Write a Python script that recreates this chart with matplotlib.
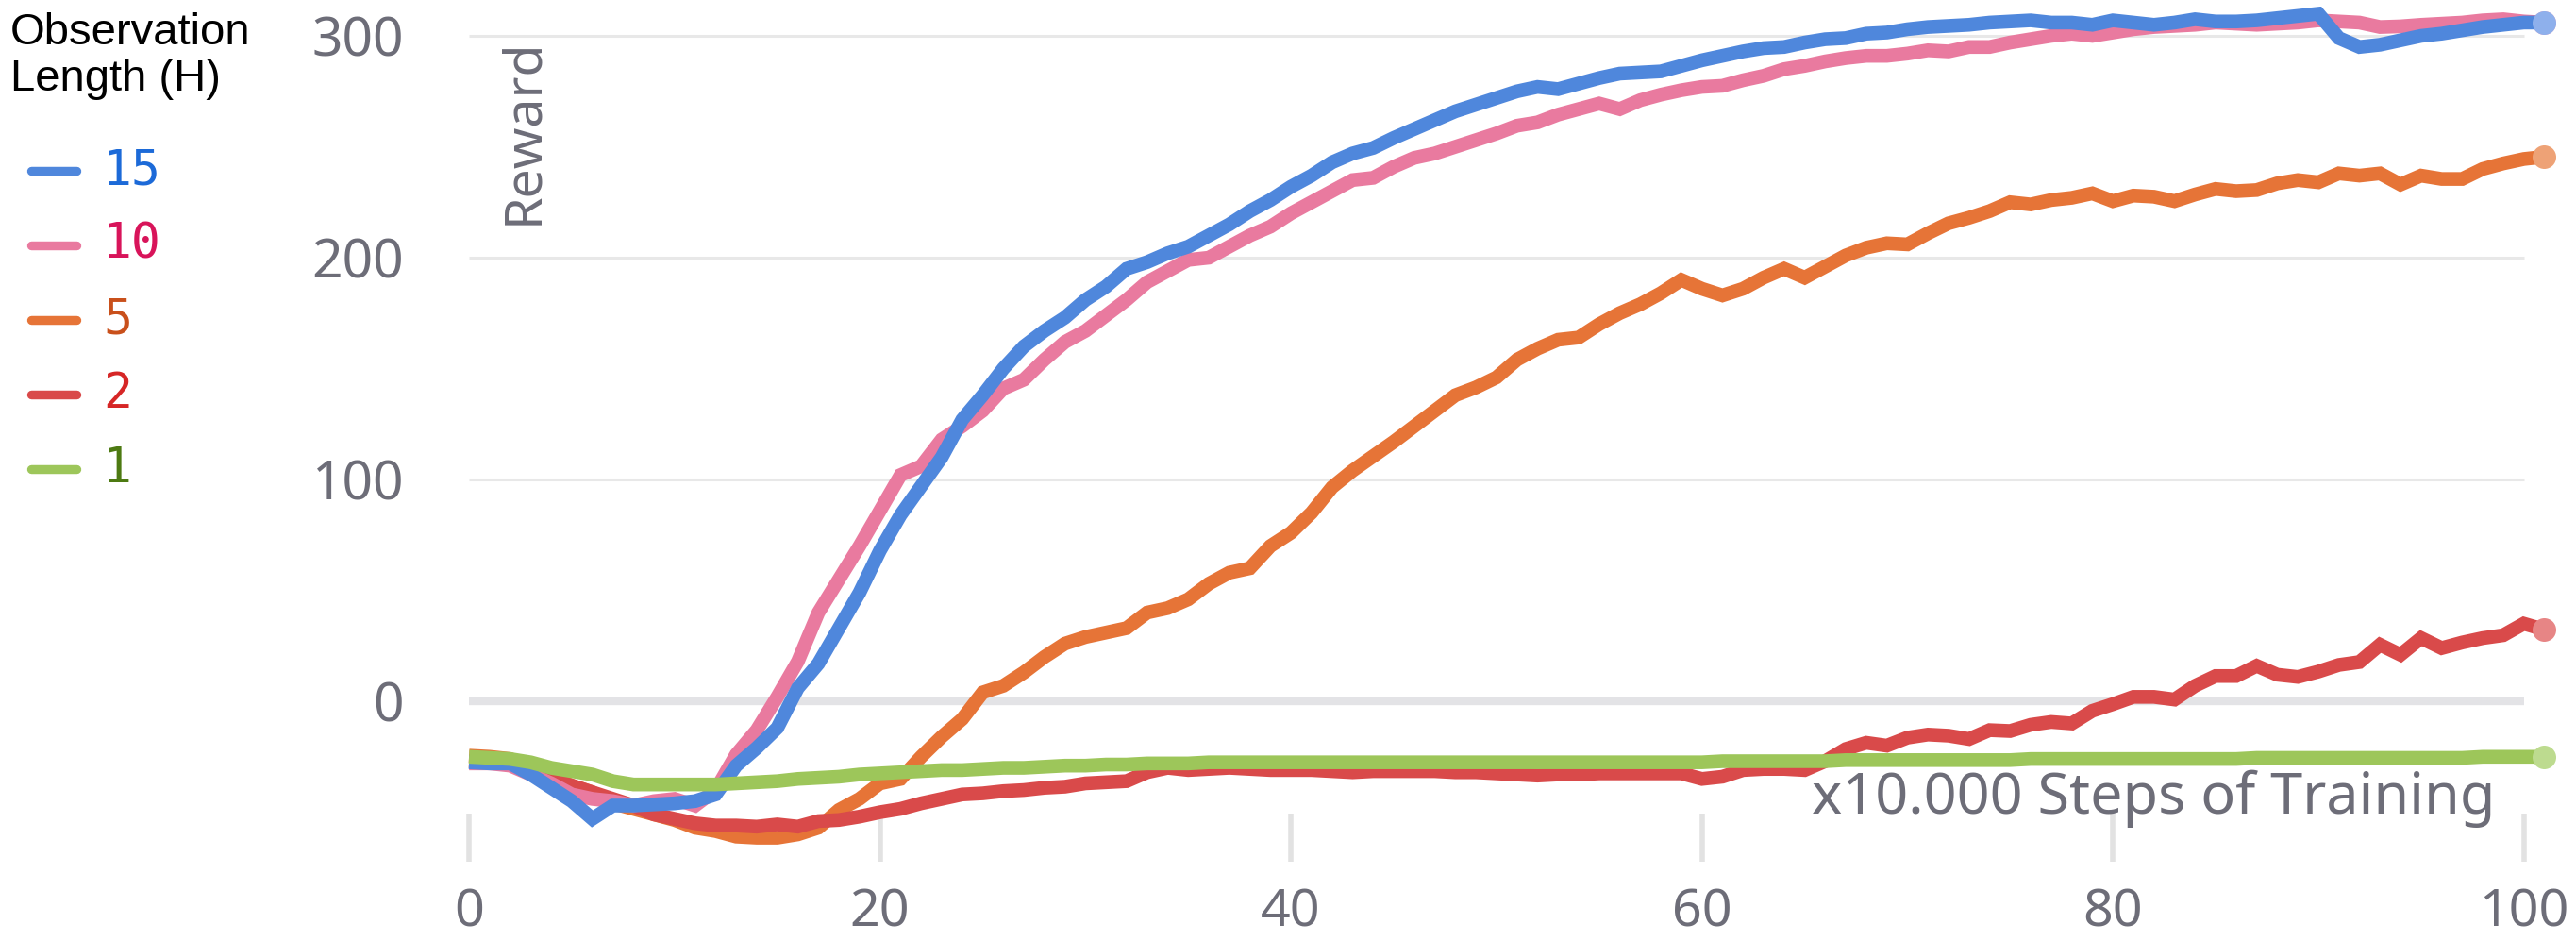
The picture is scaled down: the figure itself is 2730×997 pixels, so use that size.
"""Reward curves for different observation lengths H."""
import matplotlib
matplotlib.use("Agg")
import matplotlib.pyplot as plt
from matplotlib.lines import Line2D

# ── data ──────────────────────────────────────────────────────────────────
steps = list(range(102))

h15 = [-27.5, -28, -28, -33, -39, -45, -53, -47, -47, -46.5,
       -46, -45, -42, -29, -21, -12, 6, 17, 33, 49,
       68, 84, 97, 110, 127, 138, 150, 160, 167, 173,
       181, 187, 195, 198, 202, 205, 210, 215, 221, 226,
       232, 237, 243, 247, 249.5, 254, 258, 262, 266, 269,
       272, 275, 277, 276, 278.5, 281, 283, 283.5, 284, 286.5,
       289, 291, 293, 294.5, 295, 297, 298.5, 299, 301, 301.5,
       303, 304, 304.5, 305, 306, 306.5, 307, 306, 306, 305,
       307, 306, 305, 306, 307.5, 306.5, 306.5, 307, 308, 309,
       310, 299, 295, 296, 298, 300, 301, 302.5, 304, 305,
       306, 306]

h10 = [-28, -28, -29, -33, -37, -42, -44, -45, -47, -45,
       -44, -47, -40, -24, -13, 2, 18, 40, 55, 70,
       86, 102, 106, 118, 124, 131, 141, 145, 154, 162,
       167, 174, 181, 189, 194, 199, 200, 205, 210, 214,
       220, 225, 230, 235, 236, 241, 245, 247, 250, 253,
       256, 259.5, 261, 264.5, 267, 269.5, 267, 271, 273.5, 275.5,
       277, 277.5, 280, 282, 285, 286.5, 288.5, 290, 291, 291,
       292, 293.5, 293, 295, 295, 297, 298.5, 300, 301, 300,
       301.5, 303, 304, 304.5, 305, 306, 305.5, 305, 305.5, 306,
       307, 306.5, 306, 304, 304.3, 305, 305.5, 306, 307, 307.5,
       306.5, 306]

h5 = [-24.5, -25, -26, -30, -34, -38, -41, -46, -48.5, -51,
      -53.5, -57, -58.5, -61, -61.5, -61.5, -60, -57, -49, -44,
      -37, -35, -25, -16, -8, 4, 7, 13, 20, 26,
      29, 31, 33, 40, 42, 46, 53, 58, 60, 70,
      76, 85, 96.5, 104, 110.5, 117, 124, 131, 138, 141.5,
      146, 154, 159, 163, 164, 170, 175, 179, 184, 190,
      186, 183, 186, 191, 195, 191, 196, 201, 204.5, 206.5,
      206, 211, 215.5, 218, 221, 225, 224, 226, 227, 229,
      225.5, 228, 227.5, 225.5, 228.5, 231, 230, 230.5, 233.5, 235,
      234, 238, 237, 238, 233, 237, 235.5, 235.5, 240, 242.5,
      244.5, 245.5]

h2 = [-27, -27.5, -28, -31, -35, -38, -41, -44, -47, -51,
      -53, -55, -56, -56, -56.5, -55.5, -56.5, -54, -53.5, -52,
      -50, -48.5, -46, -44, -42, -41.5, -40.5, -40, -39, -38.5,
      -37, -36.5, -36, -32, -30, -31, -30.5, -30, -30.5, -31,
      -31, -31, -31.5, -32, -31.5, -31.5, -31.5, -31.5, -32, -32,
      -32.5, -33, -33.5, -33, -33, -32.5, -32.5, -32.5, -32.5, -32.5,
      -35, -34, -31, -30.5, -30.5, -31, -27, -21.5, -18.7, -20,
      -16.4, -15, -15.5, -17, -13, -13.4, -10.6, -9.3, -10, -4.3,
      -1.3, 2, 2, 0.8, 7, 11.4, 11.4, 16, 12, 11,
      13.4, 16.4, 17.7, 25.5, 21, 28.5, 24, 26.5, 28.5, 29.8,
      35, 32.3]

h1 = [-25, -25.5, -26, -27.5, -30, -31.5, -33, -36, -37.5, -37.5,
      -37.5, -37.5, -37.5, -37, -36.5, -36, -35, -34.5, -34, -33,
      -32.5, -32, -31.5, -31, -31, -30.5, -30, -30, -29.5, -29,
      -29, -28.5, -28.5, -28, -28, -28, -27.5, -27.5, -27.5, -27.5,
      -27.5, -27.5, -27.5, -27.5, -27.5, -27.5, -27.5, -27.5, -27.5, -27.5,
      -27.5, -27.5, -27.5, -27.5, -27.5, -27.5, -27.5, -27.5, -27.5, -27.5,
      -27.5, -27, -27, -27, -27, -27, -27, -26.5, -26.5, -26.5,
      -26.5, -26.5, -26.5, -26.5, -26.5, -26.5, -26, -26, -26, -26,
      -26, -26, -26, -26, -26, -26, -26, -25.5, -25.5, -25.5,
      -25.5, -25.5, -25.5, -25.5, -25.5, -25.5, -25.5, -25.5, -25, -25,
      -25, -25]

legend_labels = ["15", "10", "5", "2", "1"]
x_ticks = [0, 20, 40, 60, 80, 100]
y_ticks = [0, 100, 200, 300]

# ── colours ───────────────────────────────────────────────────────────────
C_LINE = {"15": "#4f87dc", "10": "#e97a9f", "5": "#e67437", "2": "#d94a4a", "1": "#9dc65a"}
C_DOT = {"15": "#8eb0ec", "10": "#f0a6bf", "5": "#eea276", "2": "#e78585", "1": "#bddb8f"}
C_TXT = {"15": "#1c6ad8", "10": "#d8145a", "5": "#c9501b", "2": "#d62626", "1": "#4d7a12"}
C_AXTXT = "#6d6d78"
C_GRID = "#e8e8e8"
C_ZERO = "#e3e3e6"

FONT = "Noto Sans"

series = {"15": h15, "10": h10, "5": h5, "2": h2, "1": h1}
draw_order = ["5", "2", "10", "15", "1"]   # bottom → top

fig = plt.figure(figsize=(27.3, 9.97), dpi=100)
ax = fig.add_axes([0.1797, 0.0843, 0.8144, 0.9082])
ax.set_xlim(-0.3, 101.8)
ax.set_ylim(-72.3, 313)
for s in ax.spines.values():
    s.set_visible(False)

# gridlines only across the data range
for yv in y_ticks:
    if yv == 0:
        ax.hlines(yv, 0, 100, color=C_ZERO, lw=6, zorder=1)
    else:
        ax.hlines(yv, 0, 100, color=C_GRID, lw=2.2, zorder=1)

for i, key in enumerate(draw_order):
    ys = series[key]
    ax.plot(steps, ys, color=C_LINE[key], lw=10.5, solid_joinstyle="miter",
            solid_capstyle="butt", zorder=3 + i)
    ax.plot(steps[-1], ys[-1], "o", ms=18, color=C_DOT[key], mec="none",
            zorder=3 + i)

ax.set_xticks(x_ticks)
ax.set_xticklabels([str(v) for v in x_ticks])
ax.set_yticks(y_ticks)
ax.set_yticklabels([str(v) for v in y_ticks])
ax.tick_params(axis="x", direction="in", length=37, width=4, color="#e2e2e2",
               pad=19, labelsize=40, labelcolor=C_AXTXT)
ax.tick_params(axis="y", length=0, pad=45, labelsize=41, labelcolor=C_AXTXT)
for t in ax.get_xticklabels() + ax.get_yticklabels():
    t.set_fontfamily(FONT)

ax.text(2.66, 257, "Reward", rotation=90, ha="center", va="center",
        fontsize=40, color=C_AXTXT, family=FONT)
ax.text(98.6, -50.8, "x10.000 Steps of Training", ha="right", va="baseline",
        fontsize=44, color=C_AXTXT, family=FONT)

# ── legend (manual) ───────────────────────────────────────────────────────
W, H = 2730, 997
fig.text(11 / W, 1 - 13 / H, "Observation\nLength (H)", ha="left", va="top",
         fontsize=34, color="black", family="Liberation Sans", linespacing=1.16)
for i, lab in enumerate(legend_labels):
    yc = 1 - (181 + 79 * i) / H
    fig.add_artist(Line2D([33 / W, 81 / W], [yc, yc], color=C_LINE[lab], lw=6.8,
                          solid_capstyle="round"))
    fig.text(109 / W, yc, lab, ha="left", va="center", fontsize=37,
             color=C_TXT[lab], family="DejaVu Sans Mono")

fig.savefig("out.png", dpi=100)
